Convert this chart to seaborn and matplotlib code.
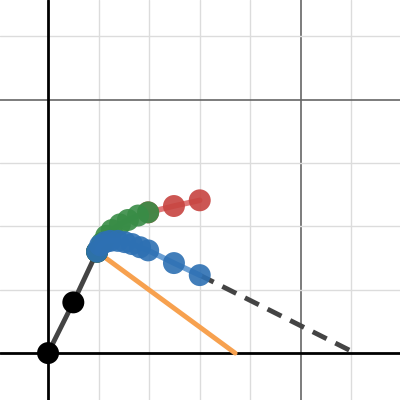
import matplotlib
matplotlib.use("Agg")
import matplotlib.pyplot as plt
import seaborn as sns
import pandas as pd

sns.set_theme(style="white")

black_x = [0.0, 0.5, 0.97]
black_y = [0.0, 0.8, 1.6]
dash_x = [3.0, 6.0]
dash_y = [1.23, 0.03]
orange_x = [0.97, 3.7]
orange_y = [1.6, 0.0]
blue_x = [0.97, 1.03, 1.13, 1.23, 1.38, 1.52, 1.66, 1.82, 1.98, 2.49, 3.0]
blue_y = [1.6, 1.70, 1.75, 1.77, 1.77, 1.75, 1.72, 1.67, 1.62, 1.42, 1.23]
green_x = [0.97, 1.07, 1.15, 1.26, 1.42, 1.58, 1.78, 1.98]
green_y = [1.6, 1.74, 1.85, 1.94, 2.03, 2.10, 2.17, 2.22]
red_x = [1.98, 2.49, 3.0]
red_y = [2.22, 2.32, 2.41]

fig = plt.figure(figsize=(4, 4), dpi=100)
ax = fig.add_axes([0, 0, 1, 1])
ax.set_xlim(-0.95, 6.96)
ax.set_ylim(-0.74, 5.57)
for v in range(0, 7):
    ax.axvline(v, color="#666" if v == 5 else "#dcdcdc", lw=1.2 if v == 5 else 1, zorder=0)
for v in range(0, 6):
    ax.axhline(v, color="#666" if v == 4 else "#dcdcdc", lw=1.2 if v == 4 else 1, zorder=0)
ax.axhline(0, color="black", lw=2, zorder=1)
ax.axvline(0, color="black", lw=2, zorder=1)
ax.set_xticks([]); ax.set_yticks([])
for s in ax.spines.values():
    s.set_visible(False)

def df(x, y):
    return pd.DataFrame({"x": x, "y": y})

sns.lineplot(data=df(orange_x, orange_y), x="x", y="y", ax=ax, color="#f7a14f", lw=3.5, sort=False, zorder=2)
sns.lineplot(data=df(dash_x, dash_y), x="x", y="y", ax=ax, color="#444", lw=3.5, ls=(0, (3.2, 2.0)), sort=False, zorder=2)
sns.lineplot(data=df(black_x, black_y), x="x", y="y", ax=ax, color="#444", lw=3.5, sort=False, zorder=3)
sns.scatterplot(data=df(black_x, black_y), x="x", y="y", ax=ax, color="black", s=250, edgecolor="none", zorder=4)
sns.lineplot(data=df(red_x, red_y), x="x", y="y", ax=ax, color="#e07878", lw=4, sort=False, zorder=3)
sns.scatterplot(data=df(red_x, red_y), x="x", y="y", ax=ax, color="#c74440", s=250, edgecolor="none", alpha=0.9, zorder=4)
sns.lineplot(data=df(green_x, green_y), x="x", y="y", ax=ax, color="#6fae6f", lw=4, sort=False, zorder=3)
sns.scatterplot(data=df(green_x, green_y), x="x", y="y", ax=ax, color="#388c46", s=250, edgecolor="none", alpha=0.9, zorder=4)
sns.lineplot(data=df(blue_x, blue_y), x="x", y="y", ax=ax, color="#6a9fd4", lw=4, sort=False, zorder=5)
sns.scatterplot(data=df(blue_x, blue_y), x="x", y="y", ax=ax, color="#2d70b3", s=250, edgecolor="none", alpha=0.9, zorder=6)
ax.set_xlabel(""); ax.set_ylabel("")
fig.savefig("out.png", dpi=100)
